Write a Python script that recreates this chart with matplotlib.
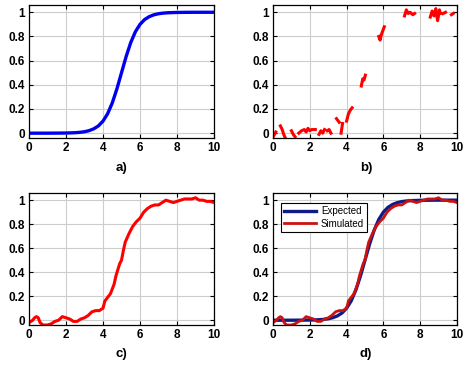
import numpy as np
import matplotlib
matplotlib.use("Agg")
import matplotlib.pyplot as plt

plt.rcParams['font.family'] = ['Liberation Sans', 'DejaVu Sans']

# ---- data ----
x_exp = [0, 0.5, 1, 1.5, 2, 2.25, 2.5, 2.75, 3, 3.25, 3.5, 3.75, 4, 4.25, 4.5, 4.75,
         5, 5.25, 5.5, 5.75, 6, 6.25, 6.5, 6.75, 7, 7.25, 7.5, 8, 8.5, 9, 10]
y_exp = [0.0, 0.0, 0.0, 0.0005, 0.0014, 0.0024, 0.004, 0.007, 0.012, 0.021, 0.036, 0.060,
         0.100, 0.161, 0.250, 0.366, 0.500, 0.634, 0.750, 0.839, 0.900, 0.940, 0.964,
         0.979, 0.988, 0.993, 0.996, 0.9986, 0.9995, 1.0, 1.0]

x_sim = [0, 0.2, 0.3, 0.4, 0.5, 0.6, 0.75, 0.9, 1.0, 1.2, 1.4, 1.6, 1.8, 2.0, 2.2, 2.4,
         2.6, 2.8, 3.0, 3.2, 3.4, 3.6, 3.8, 4.0, 4.1, 4.2, 4.4, 4.6, 4.7, 4.8, 4.9, 5.0,
         5.1, 5.2, 5.4, 5.6, 5.8, 6.0, 6.2, 6.4, 6.6, 6.8, 7.0, 7.2, 7.4, 7.6, 7.8, 8.0,
         8.2, 8.4, 8.6, 8.8, 9.0, 9.2, 9.4, 9.6, 9.8, 10]
y_sim = [-0.02, 0.0, 0.02, 0.03, 0.02, -0.02, -0.04, -0.04, -0.04, -0.03, -0.01, 0.0,
         0.03, 0.02, 0.01, -0.01, -0.01, 0.01, 0.02, 0.04, 0.07, 0.08, 0.08, 0.10, 0.16,
         0.18, 0.22, 0.30, 0.37, 0.42, 0.47, 0.50, 0.58, 0.65, 0.72, 0.78, 0.82, 0.85,
         0.90, 0.93, 0.95, 0.96, 0.96, 0.98, 1.00, 0.99, 0.98, 0.99, 1.00, 1.01, 1.01,
         1.01, 1.02, 1.00, 1.00, 0.99, 0.99, 0.98]

# sampled (broken) measurements for panel b; NaN separates segments
x_smp = [0.0, 0.08, 0.15, np.nan, 0.4, 0.5, 0.58, 0.67, np.nan, 1.0, 1.1, 1.2, np.nan,
         1.4, 1.55, 1.7, 1.8, 1.9, 2.0, 2.1, 2.3, np.nan, 2.5, 2.6, 2.7, 2.8, np.nan,
         2.95, 3.05, 3.15, np.nan, 3.45, 3.6, np.nan, 3.7, 3.78, np.nan,
         4.0, 4.1, 4.2, 4.3, np.nan, 4.8, 4.88, 4.95, 5.02, np.nan,
         5.75, 5.82, 5.9, 6.0, 6.05, np.nan, 7.15, 7.25, 7.35, 7.45, 7.6, 7.7, np.nan,
         8.55, 8.65, 8.75, 8.85, 8.95, 9.05, 9.1, np.nan, 9.25, 9.38, np.nan, 9.7, 9.8]
y_smp = [-0.03, -0.01, 0.01, np.nan, 0.06, 0.03, -0.01, -0.04, np.nan, 0.02, -0.01, -0.03, np.nan,
         0.0, 0.02, 0.03, 0.01, 0.04, 0.02, 0.03, 0.03, np.nan, -0.01, 0.02, 0.0, 0.03, np.nan,
         0.02, 0.03, 0.0, np.nan, 0.12, 0.09, np.nan, 0.0, 0.08, np.nan,
         0.10, 0.16, 0.19, 0.21, np.nan, 0.39, 0.45, 0.44, 0.48, np.nan,
         0.80, 0.77, 0.82, 0.86, 0.88, np.nan, 0.97, 1.02, 0.99, 1.0, 0.98, 0.99, np.nan,
         0.96, 1.01, 0.97, 1.03, 0.93, 1.02, 0.99, np.nan, 0.99, 1.0, np.nan, 0.98, 0.99]

xticks = [0, 2, 4, 6, 8, 10]
yticks = [0, 0.2, 0.4, 0.6, 0.8, 1]
ytick_labels = ["0", "0.2", "0.4", "0.6", "0.8", "1"]
panel_labels = ["a)", "b)", "c)", "d)"]

fig = plt.figure(figsize=(4.74, 3.72), dpi=100)
positions = [
    [0.0612, 0.629, 0.3903, 0.3575],
    [0.576, 0.629, 0.388, 0.3575],
    [0.0612, 0.1263, 0.3903, 0.355],
    [0.576, 0.1263, 0.388, 0.355],
]
axes = [fig.add_axes(p) for p in positions]

for ax in axes:
    ax.set_xlim(0, 10)
    ax.set_ylim(-0.04, 1.06)
    ax.set_xticks(xticks)
    ax.set_yticks(yticks)
    ax.set_yticklabels(ytick_labels)
    ax.grid(True, color="#cdcdcd", linewidth=0.8)
    ax.set_axisbelow(True)
    ax.tick_params(direction="in", length=3, labelsize=8.5, pad=3,
                   top=True, right=True)
    for lab in ax.get_xticklabels() + ax.get_yticklabels():
        lab.set_fontweight("bold")
    for s in ax.spines.values():
        s.set_linewidth(0.9)

axes[0].plot(x_exp, y_exp, color="#0000ee", linewidth=2.4)
axes[1].plot(x_smp, y_smp, color="#ff0000", linewidth=2.2)
axes[2].plot(x_sim, y_sim, color="#ff0000", linewidth=2.2)
axes[3].plot(x_exp, y_exp, color="#101c86", linewidth=2.4, label="Expected")
axes[3].plot(x_sim, y_sim, color="#cc1111", linewidth=2.0, label="Simulated")
leg = axes[3].legend(loc="upper left", bbox_to_anchor=(0.043, 0.924), borderaxespad=0,
                     fontsize=7, fancybox=False, edgecolor="black", framealpha=1,
                     handlelength=3.3, borderpad=0.3, labelspacing=0.3, handletextpad=0.5)
leg.get_frame().set_linewidth(0.8)

label_pos = [(121, 168), (366, 168), (121, 354), (366, 354)]
for (px, py), t in zip(label_pos, panel_labels):
    fig.text(px / 474, 1 - py / 372, t, ha="center", va="center",
             fontsize=9.5, fontweight="bold")

fig.savefig("out.png", dpi=100)
